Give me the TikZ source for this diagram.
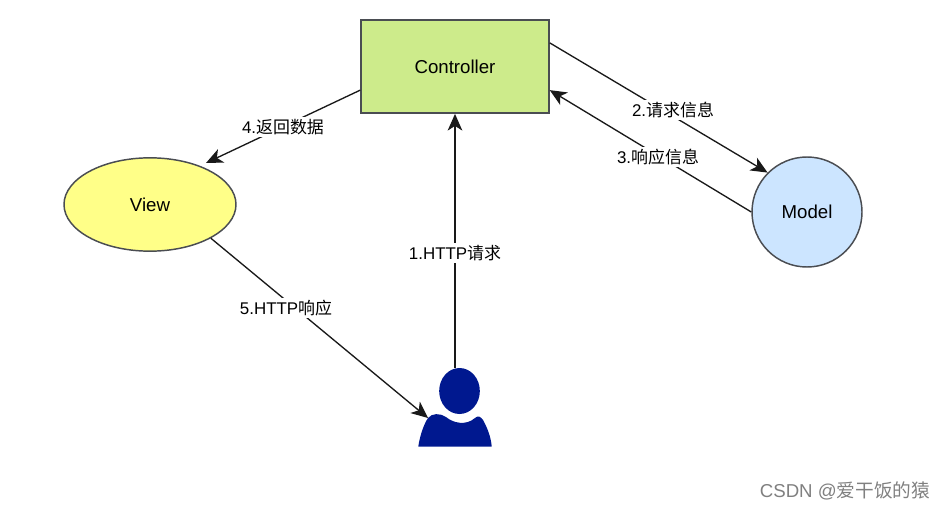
\documentclass[tikz,border=0pt]{standalone}
\usepackage{fontspec}
\setmainfont{Liberation Sans}
\newfontfamily\cjk{Noto Sans CJK SC}
\usetikzlibrary{positioning,shapes.geometric,arrows.meta}
\definecolor{lineGray}{HTML}{4A4D52}
\definecolor{ctrlGreen}{HTML}{CDEB8B}
\definecolor{viewYellow}{HTML}{FFFF88}
\definecolor{modelBlue}{HTML}{CCE5FF}
\definecolor{userBlue}{HTML}{00188F}
\tikzset{
  box/.style={draw=lineGray, line width=1.1pt, font=\fontsize{14}{17}\selectfont, inner sep=0pt},
  lab/.style={fill=white, font=\fontsize{12.7}{15}\selectfont, inner sep=1.5pt},
  link/.style={-{Stealth[length=12.5pt,width=11pt,inset=3.5pt]}, line width=1pt, black!90}
}
\begin{document}
\begin{tikzpicture}[x=0.75pt,y=-0.75pt]
  \useasboundingbox (0,0) rectangle (946,510);

  \node[box, fill=ctrlGreen, minimum width=141pt, minimum height=70pt] (ctrl) at (455,66.5) {Controller};
  \node[box, ellipse, fill=viewYellow, minimum width=129pt, minimum height=70pt] (view) at (150,204.5) {View};
  \node[box, circle, fill=modelBlue, minimum width=82.5pt] (model) at (807,212) {Model};

  % user icon
  \node[ellipse, fill=userBlue, inner sep=0pt, minimum width=30.5pt, minimum height=34.5pt] (head) at (459.5,391) {};
  \fill[userBlue] (418.3,446.5) .. controls (420,435) and (424,424) .. (428,418)
    .. controls (432,413) and (440,413) .. (446,417)
    .. controls (453,423) and (466,426) .. (475,418)
    .. controls (478,415) and (481,417) .. (483,420)
    .. controls (487,427) and (491,437) .. (491.7,446.5) -- cycle;
  \coordinate (body) at (428,418);
  \coordinate (viewtop) at (206,163);

  \foreach \from/\to in {ctrl.194/viewtop, ctrl.14/model.135, model.west/ctrl.-14, view.-29/body}
    \draw[link] (\from) -- (\to);
  \draw[link] (ctrl.south |- head.north) -- (ctrl.south);

  \node[lab] (l1) at (455,253) {1.HTTP{\cjk 请求}};
  \node[lab] (l2) at (673,110) {2.{\cjk 请求信息}};
  \node[lab] (l3) at (658,157) {3.{\cjk 响应信息}};
  \node[lab] (l4) at (283,127) {4.{\cjk 返回数据}};
  \node[lab] (l5) at (286,308) {5.HTTP{\cjk 响应}};

  \node[text=black!50, font=\fontsize{14}{17}\selectfont, inner sep=0pt] (mark) at (845,491) {CSDN @{\cjk 爱干饭的猿}};
\end{tikzpicture}
\end{document}
